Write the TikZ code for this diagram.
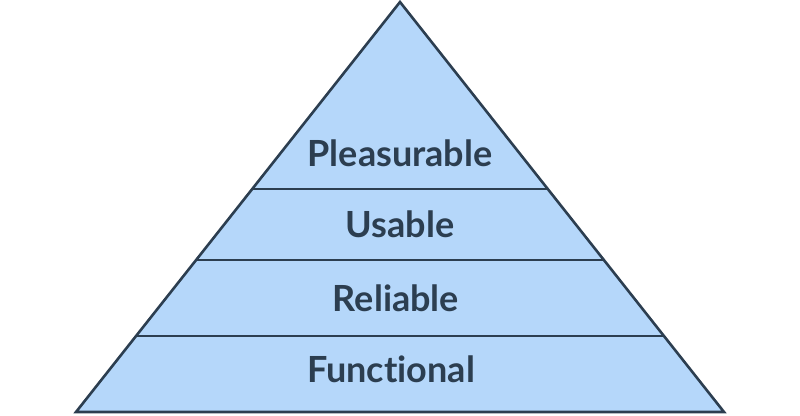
\documentclass[tikz,border=0pt]{standalone}
\usepackage{fontspec}
\setmainfont{Lato}[UprightFont=* Bold, RawFeature=-liga]
\usepackage{tikz}
\usetikzlibrary{calc}
\tikzset{layer/.style = {draw=mslate, line width=1.6pt}}
\tikzset{lbl/.style = {anchor=base, text=mslate, inner sep=0, font=\fontsize{36}{42}\selectfont}}
\definecolor{mblue}{RGB}{181, 215, 250}
\definecolor{mslate}{RGB}{44, 62, 80}

\begin{document}
\begin{tikzpicture}[x=1pt, y=1pt]
      \useasboundingbox (0, 0) rectangle (800, 415);

      \coordinate (apex) at (400, 413);
      \coordinate (bl) at (76, 3);
      \coordinate (br) at (724, 3);

      \draw [fill=mblue, draw=mslate, line width=2.6pt, line join=miter] (bl) -- (apex) -- (br) -- cycle;

      \draw [layer] ($(bl)!0.544!(apex)$) coordinate (l3) -- ($(br)!0.544!(apex)$) coordinate (r3);
      \draw [layer] ($(bl)!0.371!(apex)$) coordinate (l2) -- ($(br)!0.371!(apex)$) coordinate (r2);
      \draw [layer] ($(bl)!0.185!(apex)$) coordinate (l1) -- ($(br)!0.185!(apex)$) coordinate (r1);

      \node [lbl] (pleas) at (400, 248) {Pleasurable};
      \node [lbl] (usab) at (400, 177) {Usable};
      \node [lbl] (relia) at (396, 103) {Reliable};
      \node [lbl] (func) at (391, 33) {Functional};
    \end{tikzpicture}
\end{document}
